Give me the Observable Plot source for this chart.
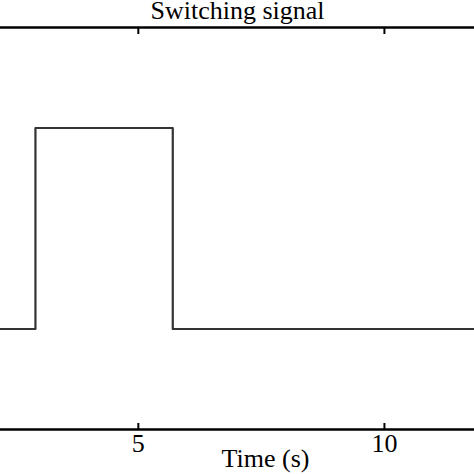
<!DOCTYPE html>
<html>
<head>
<meta charset="utf-8">
<script src="https://cdn.jsdelivr.net/npm/d3@7"></script>
<script src="https://cdn.jsdelivr.net/npm/@observablehq/plot@0.6"></script>
<style>
  html, body { margin: 0; padding: 0; background: #fff; }
  svg { display: block; }
</style>
</head>
<body>
<div id="chart"></div>
<script>
// Data
const time = [2.2, 2.91, 5.7, 11.83];   // s, switching instants (step-after)
const mode = [1, 2, 1, 1];              // active mode index
const xDomain = [2.2, 11.83];
const yDomain = [0.5, 2.5];
const xTicks = [5, 10];
const title = "Switching signal";
const xLabel = "Time (s)";

const signal = time.map((t, i) => ({t, m: mode[i]}));

const chart = Plot.plot({
  width: 474,
  height: 474,
  marginLeft: 0,
  marginRight: 0,
  marginTop: 27,
  marginBottom: 45,
  style: {fontFamily: "'Liberation Serif', 'DejaVu Serif', serif", fontSize: "26px", color: "#000", background: "#fff"},
  x: {domain: xDomain},
  y: {domain: yDomain, axis: null},
  marks: [
    Plot.ruleY(yDomain, {stroke: "#000", strokeWidth: 2.5}),
    Plot.axisX({anchor: "bottom", ticks: xTicks, tickSize: -6, tickPadding: 10, strokeWidth: 2, label: null, fontSize: 26}),
    Plot.axisX({anchor: "top", ticks: xTicks, tickSize: -6, strokeWidth: 2, tickFormat: () => "", label: null}),
    Plot.line(signal, {x: "t", y: "m", curve: "step-after", stroke: "#333", strokeWidth: 2.2}),
    Plot.text([title], {frameAnchor: "top", lineAnchor: "bottom", dy: -8.5, fontSize: 26}),
    Plot.text([xLabel], {frameAnchor: "bottom", lineAnchor: "bottom", dy: 37, dx: 28, fontSize: 26})
  ]
});
document.getElementById("chart").appendChild(chart);
</script>
</body>
</html>
